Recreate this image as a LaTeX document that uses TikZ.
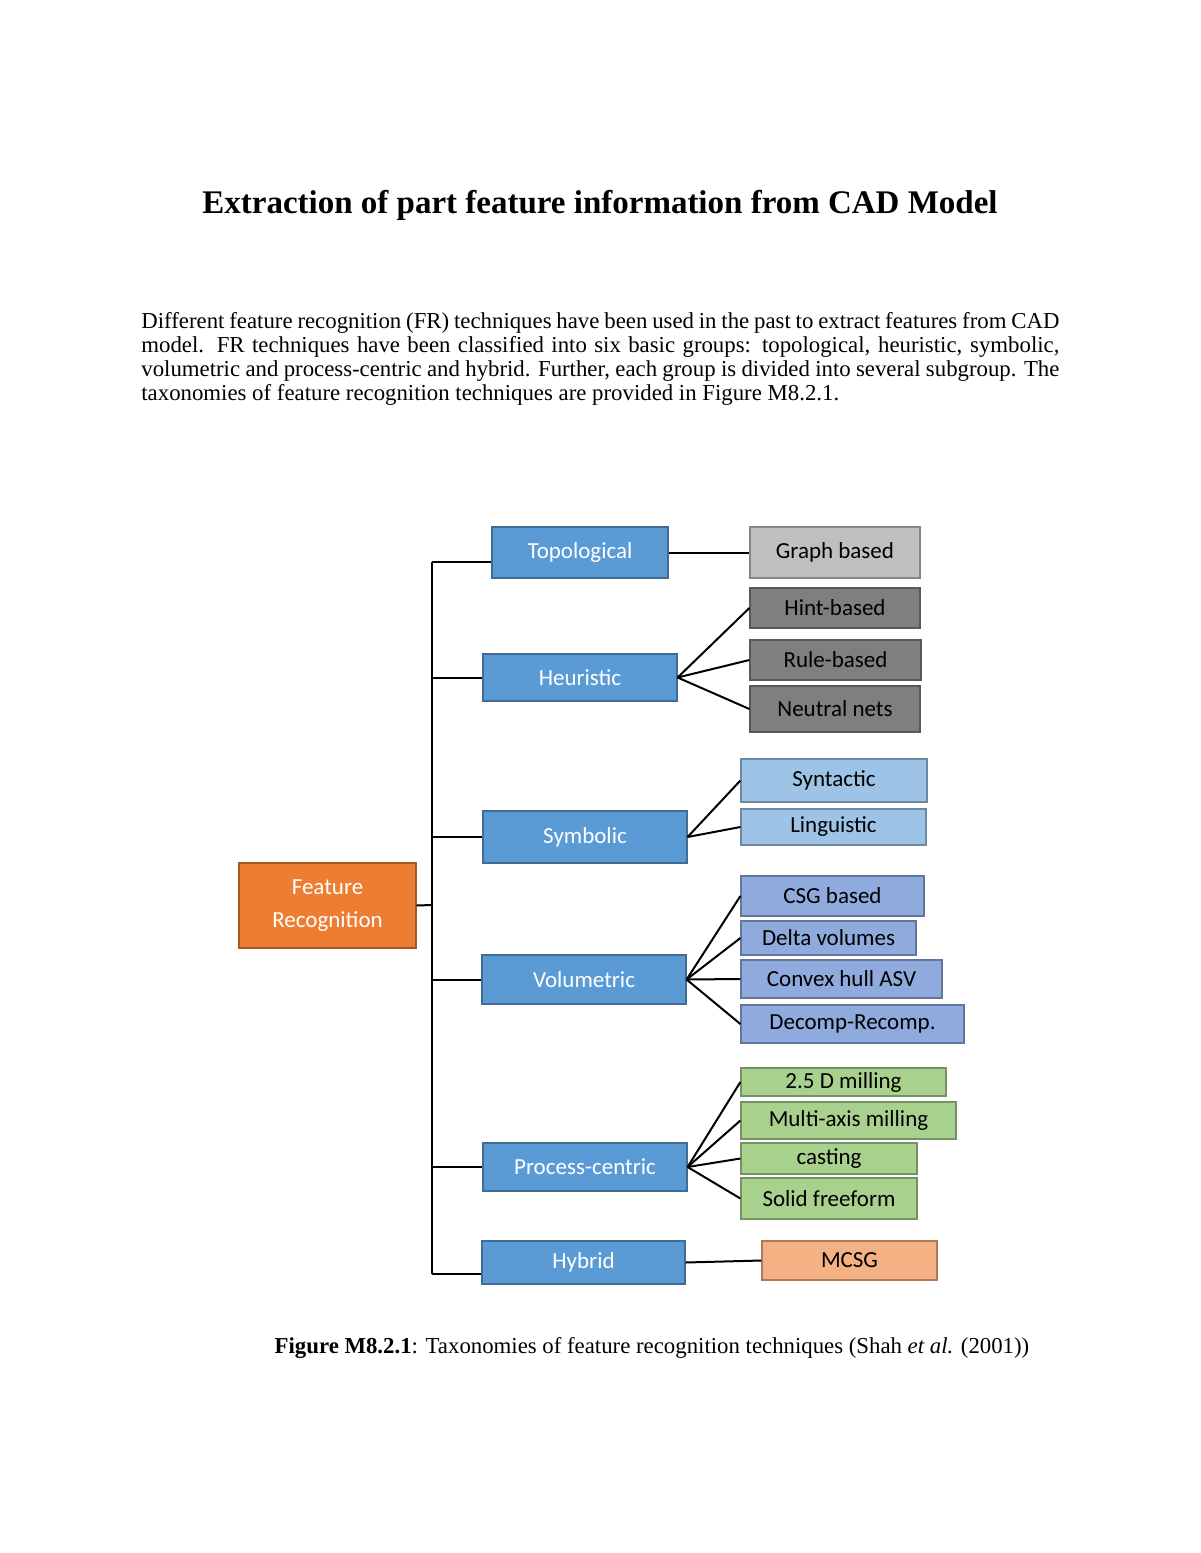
\documentclass[tikz,border=0pt]{standalone}
\usepackage{fontspec}
\setmainfont{Liberation Serif}
\newfontfamily\boxfont{Carlito}
\begin{document}
\begin{tikzpicture}[x=0.5pt,y=-0.5pt]
\useasboundingbox (0,0) rectangle (1200,1553);
\tikzset{
 bx/.style={draw=#1!70!black,line width=0.6pt,inner sep=0pt,font=\boxfont\fontsize{11.5}{14}\selectfont},
 cat/.style={bx=catc,fill=catc,text=white},
 lk/.style={line width=1pt,black}
}
\definecolor{catc}{HTML}{5B9BD5}
\definecolor{orng}{HTML}{ED7D31}
\definecolor{lgray}{HTML}{BFBFBF}
\definecolor{dgray}{HTML}{7F7F7F}
\definecolor{lblue}{HTML}{9DC3E6}
\definecolor{peri}{HTML}{8FAADC}
\definecolor{grn}{HTML}{A9D18E}
\definecolor{salm}{HTML}{F4B183}
\newcommand\bxat[6]{\node[#6,minimum width=#3*0.5pt-#1*0.5pt,minimum height=#4*0.5pt-#2*0.5pt] (#5) at ({(#1+#3)/2},{(#2+#4)/2})}
% title and text
\node (title) at (600,205) {\fontsize{16.5}{20}\selectfont\bfseries Extraction of part feature information from CAD Model};
\node[anchor=north west,inner sep=0pt,text width=459pt,align=justify] (para) at (141,312)
 {\fontsize{11.4}{20.3}\selectfont Different feature recognition (FR) techniques have been used in the past to extract features from CAD model. FR techniques have been classified into six basic groups: topological, heuristic, symbolic, volumetric and process-centric and hybrid. Further, each group is divided into several subgroup. The taxonomies of feature recognition techniques are provided in Figure M8.2.1.};
% root
\bxat{239}{863}{416}{948}{fr}{bx=orng,fill=orng,text=white,align=center,font=\boxfont\fontsize{11.5}{16.5}\selectfont}{Feature\\Recognition};
% categories
\bxat{492}{527}{668}{578}{top}{cat}{Topological};
\bxat{483}{654}{677}{701}{heu}{cat}{Heuristic};
\bxat{483}{811}{687}{863}{sym}{cat}{Symbolic};
\bxat{482}{955}{686}{1004}{vol}{cat}{Volumetric};
\bxat{483}{1143}{687}{1191}{pro}{cat}{Process-centric};
\bxat{482}{1241}{685}{1284}{hyb}{cat}{Hybrid};
% leaves
\bxat{750}{527}{920}{578}{gb}{bx=lgray,fill=lgray}{Graph based};
\bxat{750}{588}{920}{628}{hb}{bx=dgray,fill=dgray}{Hint-based};
\bxat{750}{640}{921}{680}{rb}{bx=dgray,fill=dgray}{Rule-based};
\bxat{750}{686}{920}{732}{nn}{bx=dgray,fill=dgray}{Neutral nets};
\bxat{741}{759}{927}{802}{syn}{bx=lblue,fill=lblue}{Syntactic};
\bxat{741}{809}{926}{845}{lin}{bx=lblue,fill=lblue}{Linguistic};
\bxat{741}{876}{924}{916}{csg}{bx=peri,fill=peri}{CSG based};
\bxat{741}{921}{916}{955}{dv}{bx=peri,fill=peri}{Delta volumes};
\bxat{741}{960}{942}{998}{ch}{bx=peri,fill=peri}{Convex hull ASV};
\bxat{741}{1005}{964}{1043}{dr}{bx=peri,fill=peri}{Decomp-Recomp.};
\bxat{741}{1068}{946}{1096}{m25}{bx=grn,fill=grn}{2.5 D milling};
\bxat{741}{1102}{956}{1139}{ma}{bx=grn,fill=grn}{Multi-axis milling};
\bxat{741}{1143}{917}{1174}{cas}{bx=grn,fill=grn}{casting};
\bxat{741}{1178}{917}{1219}{sf}{bx=grn,fill=grn}{Solid freeform};
\bxat{762}{1241}{937}{1280}{mc}{bx=salm,fill=salm}{MCSG};
% trunk
\coordinate (t1) at (432,562);
\coordinate (t2) at (432,1274);
\coordinate (tr) at (432,905);
\draw[lk] (t1) -- (t2);
\draw[lk] (fr.east) -- (tr);
\draw[lk] (t1) -- (top.west|-t1);
\foreach \n in {heu,sym,vol,pro} \draw[lk] (\n.west-|t1) -- (\n.west);
\draw[lk] (t2) -- (hyb.west|-t2);
% fans
\draw[lk] (top.east) -- (gb.west);
\foreach \n in {hb,rb,nn} \draw[lk] (heu.east) -- (\n.west);
\foreach \n in {syn,lin} \draw[lk] (sym.east) -- (\n.west);
\foreach \n in {csg,dv,ch,dr} \draw[lk] (vol.east) -- (\n.west);
\foreach \n in {m25,ma,cas,sf} \draw[lk] (pro.east) -- (\n.west);
\draw[lk] (hyb.east) -- (mc.west);
% caption
\node (cap) at (652,1348) {\fontsize{11.4}{14}\selectfont\textbf{Figure M8.2.1}: Taxonomies of feature recognition techniques (Shah \textit{et al.} (2001))};
\end{tikzpicture}
\end{document}
